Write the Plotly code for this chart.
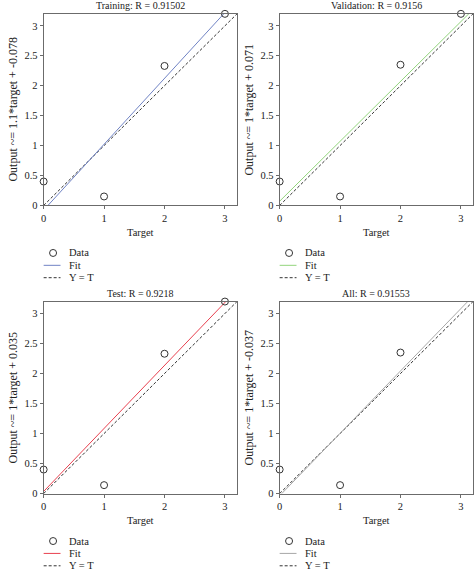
import numpy as np
import plotly.graph_objects as go

W, H = 474, 580

# ---------------- data ----------------
panel_names = ["Training", "Validation", "Test", "All"]
r_values = ["0.91502", "0.9156", "0.9218", "0.91553"]
fit_slopes = [1.1, 1.0, 1.05, 1.04]
fit_intercepts = [-0.078, 0.071, 0.035, -0.037]
label_slopes = ["1.1", "1", "1", "1"]
label_intercepts = ["-0.078", "0.071", "0.035", "-0.037"]

targets_training = [0, 1, 2, 3]
outputs_training = [0.40, 0.15, 2.33, 3.20]
targets_validation = [0, 1, 2, 3]
outputs_validation = [0.40, 0.15, 2.35, 3.20]
targets_test = [0, 1, 2, 3]
outputs_test = [0.40, 0.14, 2.33, 3.20]
targets_all = [0, 1, 2]
outputs_all = [0.40, 0.14, 2.35]

targets = [targets_training, targets_validation, targets_test, targets_all]
outputs = [outputs_training, outputs_validation, outputs_test, outputs_all]

x_ticks = [0, 1, 2, 3]
y_ticks = [0, 0.5, 1, 1.5, 2, 2.5, 3]
axis_range = [0, 3.2]

# ---------------- style ----------------
fit_colors = ["#7083c4", "#92d47c", "#e8404f", "#a8a8a8"]
ink = "#333333"
axis_col = "#6b6b6b"
FONT = "'Liberation Serif', 'DejaVu Serif', serif"
FS = 10.5
FS_TITLE = 10
FS_YLAB = 12
DASH = "3px,2px"

# panel pixel boxes: (left, right, top, bottom)
boxes = [(41, 236, 14, 207.6), (279, 474, 14, 207.6),
         (41, 236, 304.7, 498.7), (279, 474, 304.7, 498.7)]


def px(x):
    return x / W


def py(y):
    return 1 - y / H


fig = go.Figure()
annotations = []
shapes = []

for i in range(4):
    ax = "" if i == 0 else str(i + 1)
    xref, yref = "x" + ax, "y" + ax
    l, r, t, b = boxes[i]

    # Y = T line
    xs = np.array(axis_range)
    fig.add_trace(go.Scatter(x=xs, y=xs, mode="lines", xaxis=xref, yaxis=yref,
                             line=dict(color=ink, width=1, dash=DASH),
                             showlegend=False, hoverinfo="skip"))
    # Fit line
    fig.add_trace(go.Scatter(x=xs, y=fit_slopes[i] * xs + fit_intercepts[i],
                             mode="lines", xaxis=xref, yaxis=yref,
                             line=dict(color=fit_colors[i], width=1),
                             showlegend=False, hoverinfo="skip"))
    # Data
    fig.add_trace(go.Scatter(x=targets[i], y=outputs[i], mode="markers",
                             xaxis=xref, yaxis=yref, cliponaxis=False,
                             marker=dict(symbol="circle-open", size=7,
                                         color=ink, line=dict(width=1, color=ink)),
                             showlegend=False))

    axis_common = dict(range=axis_range, showline=True, linecolor=axis_col,
                       linewidth=1, mirror=True, ticks="outside", ticklen=3,
                       tickcolor=axis_col, showgrid=False, zeroline=False,
                       tickfont=dict(family=FONT, size=FS, color="#222"))
    fig.layout["xaxis" + ax] = dict(domain=[px(l), px(r)], anchor=yref,
                                    tickvals=x_ticks, **axis_common)
    fig.layout["yaxis" + ax] = dict(domain=[py(b), py(t)], anchor=xref,
                                    tickvals=y_ticks, **axis_common)

    # title
    annotations.append(dict(text=f"{panel_names[i]}: R = {r_values[i]}",
                            x=px((l + r) / 2), y=py(t - 8.5), xref="paper", yref="paper",
                            showarrow=False, xanchor="center", yanchor="middle",
                            font=dict(family=FONT, size=FS_TITLE, color="#222")))
    # x title
    annotations.append(dict(text="Target", x=px((l + r) / 2), y=py(b + 27.5),
                            xref="paper", yref="paper", showarrow=False,
                            xanchor="center", yanchor="middle",
                            font=dict(family=FONT, size=FS, color="#222")))
    # y title
    annotations.append(dict(text=f"Output ~= {label_slopes[i]}*target + {label_intercepts[i]}",
                            x=px(l - 31), y=py((t + b) / 2), xref="paper", yref="paper",
                            showarrow=False, xanchor="center", yanchor="middle",
                            textangle=-90,
                            font=dict(family=FONT, size=FS_YLAB, color="#222")))

    # legend (manual)
    lx = l
    y_data, y_fit, y_yt = b + 48, b + 60.5, b + 73
    shapes.append(dict(type="circle", xref="paper", yref="paper",
                       xsizemode="pixel", ysizemode="pixel",
                       xanchor=px(lx + 9.5), yanchor=py(y_data),
                       x0=-3.5, x1=3.5, y0=-3.5, y1=3.5,
                       line=dict(color=ink, width=1)))
    shapes.append(dict(type="line", xref="paper", yref="paper",
                       x0=px(lx), x1=px(lx + 17), y0=py(y_fit), y1=py(y_fit),
                       line=dict(color=fit_colors[i], width=1)))
    shapes.append(dict(type="line", xref="paper", yref="paper",
                       x0=px(lx), x1=px(lx + 17), y0=py(y_yt), y1=py(y_yt),
                       line=dict(color=ink, width=1, dash=DASH)))
    for txt, yy in [("Data", y_data), ("Fit", y_fit), ("Y = T", y_yt)]:
        annotations.append(dict(text=txt, x=px(lx + 24), y=py(yy), xref="paper",
                                yref="paper", showarrow=False, xanchor="left",
                                yanchor="middle",
                                font=dict(family=FONT, size=FS, color="#222")))

fig.update_layout(width=W, height=H, margin=dict(l=0, r=0, t=0, b=0),
                  paper_bgcolor="white", plot_bgcolor="white",
                  annotations=annotations, shapes=shapes, showlegend=False,
                  font=dict(family=FONT, size=FS, color="#222"))

fig.write_html("out.html")
